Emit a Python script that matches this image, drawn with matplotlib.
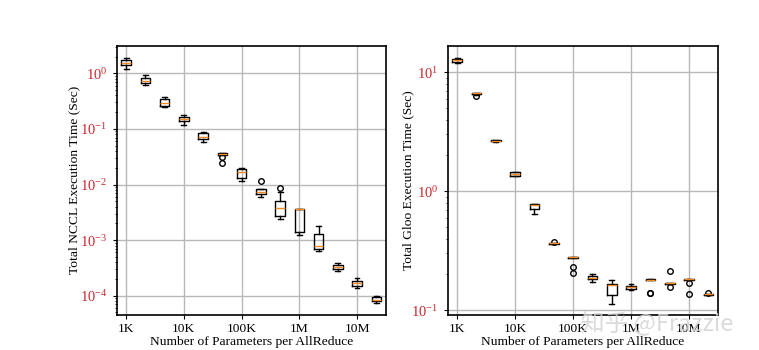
import matplotlib
matplotlib.use("Agg")
import matplotlib.pyplot as plt
from matplotlib.ticker import FixedLocator, LogLocator, NullFormatter

plt.rcParams['font.family'] = ['Liberation Serif', 'DejaVu Serif']
plt.rcParams['mathtext.fontset'] = 'stix'

# categories (14 message sizes, ~1/3 decade apart)
tick_pos = [1, 4, 7, 10, 13]
tick_labels = ['1K', '10K', '100K', '1M', '10M']

# NCCL box statistics (seconds)
nccl_whishi = [1.88, 0.93, 0.37, 0.18, 0.089, 0.0366, 0.020, 0.0082, 0.00743, 0.00368, 0.00182, 0.000383, 0.000206, 0.0000988]
nccl_q3     = [1.74, 0.81, 0.34, 0.166, 0.0833, 0.0362, 0.019, 0.0082, 0.00505, 0.00367, 0.00127, 0.000357, 0.000184, 0.0000929]
nccl_med    = [1.53, 0.74, 0.292, 0.151, 0.073, 0.0360, 0.0166, 0.00748, 0.00383, 0.00360, 0.000783, 0.000328, 0.000166, 0.0000855]
nccl_q1     = [1.41, 0.66, 0.261, 0.137, 0.0658, 0.0342, 0.01325, 0.00675, 0.00271, 0.00140, 0.000684, 0.000299, 0.000151, 0.0000804]
nccl_whislo = [1.19, 0.61, 0.251, 0.1175, 0.0589, 0.0336, 0.0117, 0.00589, 0.00239, 0.00124, 0.000637, 0.000278, 0.000139, 0.000074]
nccl_fliers = [[], [], [], [], [], [0.0313, 0.024], [], [0.01156], [0.00855], [], [], [], [], []]

# Gloo box statistics (seconds)
gloo_whishi = [13.2, 6.72, 2.70, 1.46, 0.789, 0.370, 0.283, 0.203, 0.179, 0.165, 0.182, 0.171, 0.184, 0.138]
gloo_q3     = [13.0, 6.70, 2.69, 1.445, 0.778, 0.370, 0.282, 0.194, 0.166, 0.160, 0.182, 0.171, 0.184, 0.138]
gloo_med    = [12.6, 6.68, 2.65, 1.40, 0.762, 0.366, 0.278, 0.1875, 0.164, 0.156, 0.180, 0.168, 0.183, 0.136]
gloo_q1     = [12.1, 6.50, 2.62, 1.355, 0.710, 0.359, 0.275, 0.182, 0.134, 0.152, 0.179, 0.166, 0.181, 0.1345]
gloo_whislo = [12.0, 6.48, 2.61, 1.34, 0.650, 0.358, 0.274, 0.172, 0.114, 0.149, 0.178, 0.165, 0.180, 0.134]
gloo_fliers = [[], [6.3], [], [], [], [0.378], [0.231, 0.207], [], [], [], [0.139, 0.140], [0.214, 0.157], [0.171, 0.138], [0.141]]

label_red = '#c8282c'
FS = 9.7


def make_stats(hi, q3, med, q1, lo, fl):
    return [dict(whishi=a, q3=b, med=c, q1=d, whislo=e, fliers=f)
            for a, b, c, d, e, f in zip(hi, q3, med, q1, lo, fl)]


fig = plt.figure(figsize=(7.59, 3.5), dpi=100)
ax1 = fig.add_axes([0.1535, 0.1, 0.355, 0.7694])
ax2 = fig.add_axes([0.5896, 0.1, 0.3564, 0.7694])

common = dict(
    widths=0.5,
    boxprops=dict(color='black', linewidth=1.0),
    whiskerprops=dict(color='black', linewidth=1.0),
    capprops=dict(color='black', linewidth=1.0),
    medianprops=dict(color='#f08a24', linewidth=1.0),
    flierprops=dict(marker='o', markerfacecolor='none', markeredgecolor='black',
                    markersize=4, markeredgewidth=1.0),
)

for ax, st, ylab, ylim, lpad in [
    (ax1, make_stats(nccl_whishi, nccl_q3, nccl_med, nccl_q1, nccl_whislo, nccl_fliers),
     'Total NCCL Execution Time (Sec)', (4.5e-5, 3.14), 0),
    (ax2, make_stats(gloo_whishi, gloo_q3, gloo_med, gloo_q1, gloo_whislo, gloo_fliers),
     'Total Gloo Execution Time (Sec)', (0.0913, 16.7), -2),
]:
    ax.bxp(st, positions=list(range(1, len(st) + 1)), **common)
    ax.set_yscale('log')
    ax.set_ylim(*ylim)
    ax.set_xlim(0.5, len(st) + 0.5)
    ax.xaxis.set_major_locator(FixedLocator(tick_pos))
    ax.set_xticklabels(tick_labels, fontsize=FS)
    ax.yaxis.set_major_locator(LogLocator(base=10, numticks=20))
    ax.yaxis.set_minor_locator(LogLocator(base=10, subs=range(2, 10), numticks=20))
    ax.yaxis.set_minor_formatter(NullFormatter())
    ax.tick_params(axis='y', which='major', labelsize=FS + 0.8, labelcolor=label_red, length=3)
    ax.tick_params(axis='y', which='minor', length=1.8)
    ax.tick_params(axis='x', length=3, pad=2.5)
    ax.grid(True, which='major', color='#b8b8b8', linewidth=1.0)
    ax.set_axisbelow(True)
    ax.set_xlabel('Number of Parameters per AllReduce', fontsize=FS, labelpad=1)
    ax.set_ylabel(ylab, fontsize=FS, labelpad=lpad)
    for s in ax.spines.values():
        s.set_linewidth(1.2)

fig.text(0.766, 0.078, '知乎 @Frazzie', fontsize=17, color='#d4d4d4', alpha=0.85,
         family=['Noto Sans CJK SC', 'DejaVu Sans'], ha='left', va='center')

fig.savefig('out.png', dpi=100)
